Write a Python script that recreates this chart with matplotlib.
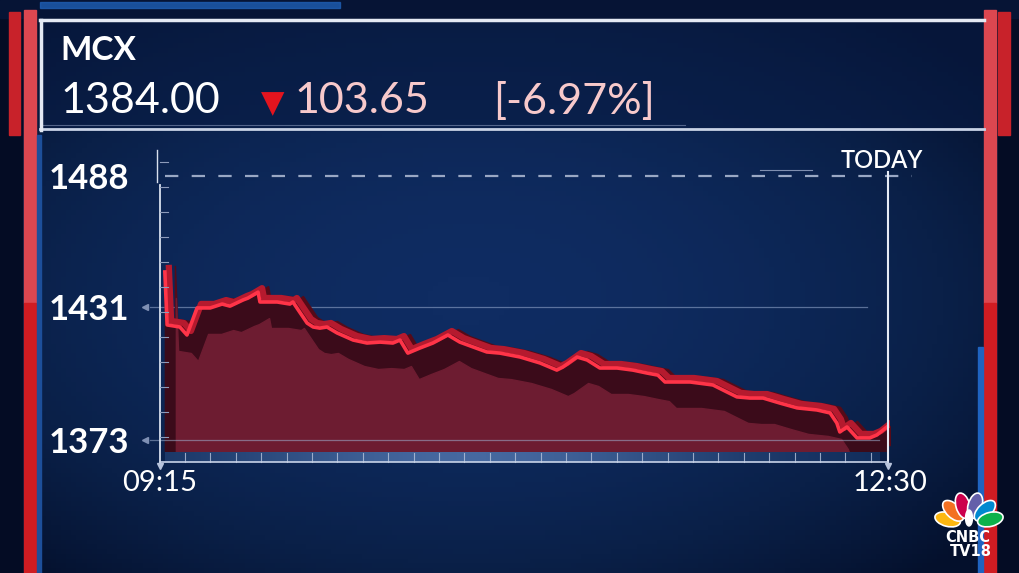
"""
MCX intraday chart, CNBC-TV18 style ticker graphic.
Saves out.png (1019x573).
"""
import numpy as np
import matplotlib
matplotlib.use("Agg")
import matplotlib.pyplot as plt
from matplotlib.patches import Rectangle, Ellipse
from matplotlib.colors import LinearSegmentedColormap
from matplotlib.transforms import offset_copy

W, H, DPI = 1019, 573, 100
FONT = "Lato"

# minutes after 09:15 and MCX price
minutes = [1.3, 1.9, 5.3, 7.2, 9.9, 13.4, 16.6, 18.7, 22.2, 23.5, 26.2, 26.7, 31.3, 34.7, 35.5,
           39.3, 40.9, 42.7, 44.6, 47.3, 51.6, 55.3, 58.8, 62.2, 64.1, 66.2, 69.4, 72.9, 76.9,
           80.1, 83.6, 87.3, 90.8, 96.2, 101.5, 106.0, 107.6, 111.4, 114.1, 117.5, 122.1, 126.3,
           130.1, 133.0, 134.9, 141.6, 147.7, 151.5, 154.1, 157.6, 161.1, 165.6, 170.2, 175.5,
           179.0, 180.8, 181.6, 183.5, 186.2, 189.6, 191.5, 194.2]
prices = [1446.3, 1423.2, 1422.3, 1418.8, 1430.6, 1430.6, 1432.3, 1431.4, 1434.1, 1434.9, 1437.5,
          1433.2, 1433.2, 1432.3, 1433.2, 1424.0, 1422.3, 1421.8, 1422.3, 1419.7, 1416.6, 1415.3,
          1415.7, 1415.3, 1416.6, 1410.9, 1413.1, 1415.3, 1418.8, 1415.7, 1413.6, 1411.4, 1410.9,
          1409.2, 1406.6, 1403.5, 1404.8, 1409.2, 1407.9, 1404.4, 1404.4, 1403.5, 1402.2, 1401.3,
          1398.3, 1398.3, 1397.0, 1393.9, 1391.8, 1391.3, 1391.3, 1389.1, 1387.0, 1386.1, 1384.8,
          1380.4, 1376.5, 1378.7, 1373.9, 1373.9, 1375.2, 1378.7]

prev_close = 1488
y_ticks = [1373, 1431, 1488]
x_ticks = [0, 195]
x_labels = ["09:15", "12:30"]

name = "MCX"
last_price = "1384.00"
change = "103.65"
change_pct = "[-6.97%]"

NAVY = "#0b2150"
PINK = "#f7c9cb"
RED = "#ff3448"
PT = 72 / DPI  # pixel -> points

fig = plt.figure(figsize=(W / DPI, H / DPI), dpi=DPI, facecolor=NAVY)

# ---- background (pixel coordinates, y down) ----
bg = fig.add_axes([0, 0, 1, 1], zorder=0)
bg.set_xlim(0, W)
bg.set_ylim(H, 0)
bg.axis("off")
xx, yy = np.meshgrid(np.linspace(0, W, 200), np.linspace(0, H, 120))
glow = 1 - ((xx - 470) / 750) ** 2 - ((yy - 300) / 420) ** 2
bg_cmap = LinearSegmentedColormap.from_list("bg", ["#04102c", "#0a2048", "#0f2c62"])
bg.imshow(glow, extent=(0, W, H, 0), cmap=bg_cmap, aspect="auto", vmin=0.2, vmax=1.0)
bg.add_patch(Rectangle((0, 0), 22, H, color="#040c24"))
bg.add_patch(Rectangle((998, 0), 21, H, color="#040c24"))
bg.add_patch(Rectangle((0, 0), W, 18, color="#061435"))
bg.add_patch(Rectangle((40, 2), 300, 6, color="#1f5fb4", alpha=0.8))
bg.add_patch(Rectangle((40, 20), 945, 110, color="#081b44", alpha=0.6))

# ---- chart ----
top_px, bot_px = 150, 451
ax = fig.add_axes([160 / W, (H - bot_px) / H, 730 / W, (bot_px - top_px) / H], zorder=1)
ax.patch.set_alpha(0)
YMIN, YMAX = 1368.2, 1499.5
ax.set_xlim(0, 195)
ax.set_ylim(YMIN, YMAX)
for s in ax.spines.values():
    s.set_visible(False)

ytr = ax.get_yaxis_transform()
ax.plot([-0.014, 0.968], [y_ticks[1]] * 2, transform=ytr, color="#8fa3c8",
        lw=0.9, alpha=0.6, clip_on=False, zorder=1)
ax.plot([0.007, 1.03], [prev_close] * 2, transform=ytr, color="#9aa8c4",
        lw=1.6, dashes=(6, 6), clip_on=False, zorder=1)

# 3D-ish ribbon: shadow block, body, lit face, top edge
shift = lambda dx, dy: offset_copy(ax.transData, fig, x=dx * PT, y=dy * PT, units="points")
ax.fill_between(minutes, prices, YMIN, color="#560a18", transform=shift(10, 6), zorder=2)
ax.fill_between(minutes, prices, YMIN, color="#3b0b1a", zorder=3)
ax.fill_between(minutes, prices, YMIN, color="#6d1c31", transform=shift(11, -26), zorder=4)
ax.plot(minutes, prices, color="#b51a2e", lw=4.5, transform=shift(4, 4), zorder=5)
ax.plot(minutes, prices, color=RED, lw=2.6, solid_joinstyle="round", zorder=6)

ax.plot([-0.014, 0.985], [y_ticks[0]] * 2, transform=ytr, color="#9fb0d0",
        lw=0.9, alpha=0.55, clip_on=False, zorder=7)
ax.plot([-0.021] * 2, y_ticks[:2], transform=ytr, ls="none", marker="<",
        ms=5, color="#7f90b4", clip_on=False)

ax.set_yticks(y_ticks, labels=[str(v) for v in y_ticks])
ax.set_xticks(x_ticks, labels=x_labels)
ax.tick_params(axis="y", length=0, pad=22, labelsize=25, labelcolor="white")
ax.tick_params(axis="x", length=0, pad=14, labelsize=21, labelcolor="white")
for lab in ax.get_yticklabels():
    lab.set_fontfamily(FONT)
    lab.set_fontweight("bold")
for lab in ax.get_xticklabels():
    lab.set_fontfamily(FONT)

# ---- overlay frame (pixel coordinates) ----
fg = fig.add_axes([0, 0, 1, 1], zorder=2)
fg.set_xlim(0, W)
fg.set_ylim(H, 0)
fg.axis("off")
fg.patch.set_alpha(0)

# side bars
fg.add_patch(Rectangle((9, 12), 11, 123, color="#c8222a"))
fg.add_patch(Rectangle((24, 10), 12, 293, color="#dc4750"))
fg.add_patch(Rectangle((24, 303), 12, H, color="#d01c22"))
fg.add_patch(Rectangle((37, 135), 4, H, color="#1d4f9a"))
fg.add_patch(Rectangle((984, 10), 12, 293, color="#dc4750"))
fg.add_patch(Rectangle((984, 303), 12, H, color="#d01c22"))
fg.add_patch(Rectangle((998, 12), 12, 123, color="#c8222a"))
fg.add_patch(Rectangle((978, 347), 5, H, color="#1f63c0"))

# header lines
fg.plot([40, 984], [20, 20], color="#e4e9f3", lw=2.5)
fg.plot([40, 984], [129, 129], color="#c9d3e6", lw=2)
fg.plot([40, 685], [125, 125], color="#8796b8", lw=0.8, alpha=0.6)
fg.plot([41, 41], [20, 130], color="#e4e9f3", lw=2.5)

fg.text(60, 51, name, color="white", fontsize=24, fontweight="bold",
        family=FONT, va="center", ha="left")
fg.text(60, 101, last_price, color="white", fontsize=31, family=FONT, va="center", ha="left")
fg.text(273, 104, "\u25BC", color="#e3141e", fontsize=22, family="DejaVu Sans",
        va="center", ha="center")
fg.text(294, 101, change, color=PINK, fontsize=31, family=FONT, va="center", ha="left")
fg.text(493, 101, change_pct, color=PINK, fontsize=31, family=FONT, va="center", ha="left")

# axis furniture
fg.plot([160, 160], [185, 463], color="#d8e0ee", lw=1.3)
fg.plot([157, 157], [150, 182], color="#d8e0ee", lw=1.0)
for ty in np.arange(162, 440, 25):
    fg.plot([160, 168], [ty, ty], color="#8d9bbb", lw=0.8)
fg.plot([888, 888], [172, 462], color="#e6ebf5", lw=1.5)
fg.plot([760, 812], [170, 170], color="#7f8fb0", lw=0.8)
fg.text(923, 161, "TODAY", color="white", fontsize=17, family=FONT,
        fontweight="semibold", ha="right", va="center")

strip = np.exp(-((np.linspace(165, 880, 300) - 470) / 260) ** 2)[None, :]
strip_cmap = LinearSegmentedColormap.from_list("strip", ["#14305f", "#4d70a8"])
fg.imshow(strip, extent=(165, 880, 462, 452), cmap=strip_cmap, aspect="auto", alpha=0.9)
fg.set_xlim(0, W)
fg.set_ylim(H, 0)
for tx in np.arange(185, 880, 25.4):
    fg.plot([tx, tx], [453, 462], color="#b7c4dc", lw=0.8, alpha=0.8)
fg.plot([160, 888], [462, 462], color="#c8d3e8", lw=1.2)
fg.plot([160, 888], [466, 466], ls="none", marker="v", ms=5, color="#b8c4dc")

# peacock logo
feathers = ["#fcb711", "#f37021", "#cc004c", "#6460aa", "#0089d0", "#0db14b"]
bx, by = 969, 524
for col, ang in zip(feathers, [166, 136, 106, 74, 44, 14]):
    a = np.radians(ang)
    fg.add_patch(Ellipse((bx + 22 * np.cos(a), by - 19 * np.sin(a)), 26, 14,
                         angle=-ang, color=col, ec="white", lw=1.2))
fg.add_patch(Ellipse((bx, by - 6), 7, 16, color="white"))
fg.text(968, 537, "CNBC", color="white", fontsize=10.5, fontweight="heavy",
        family="DejaVu Sans", ha="center", va="center")
fg.text(971, 551, "TV18", color="white", fontsize=10.5, fontweight="heavy",
        family="DejaVu Sans", ha="center", va="center")

fig.savefig("out.png", dpi=DPI, facecolor=NAVY)
